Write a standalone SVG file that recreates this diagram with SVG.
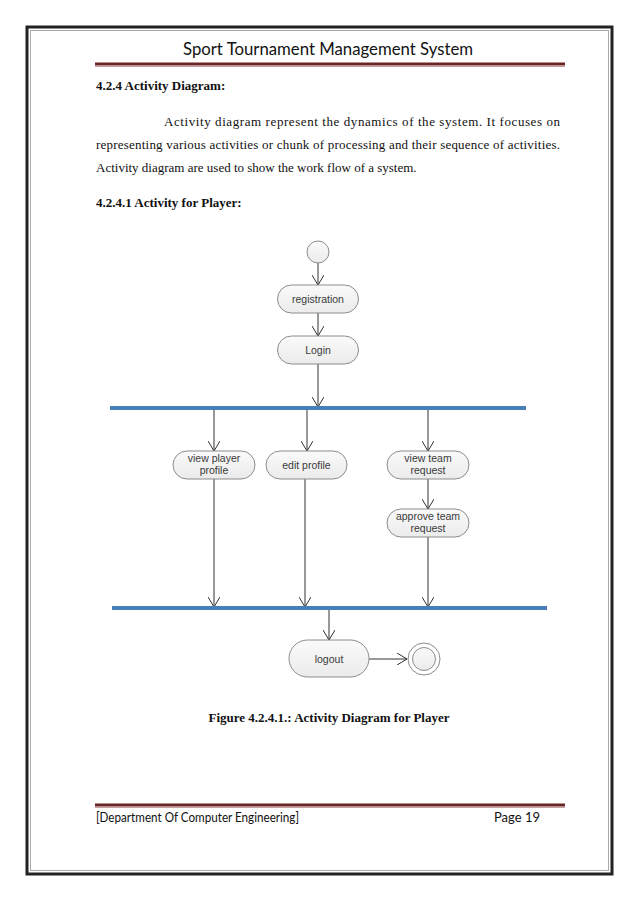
<svg xmlns="http://www.w3.org/2000/svg" width="638" height="902" viewBox="0 0 638 902">
<style>
.hdr{font-family:Lato,"Liberation Sans",sans-serif;fill:#111}
.body{font-family:"Liberation Serif",serif;font-size:13px;fill:#111}
.bold{font-family:"Liberation Serif",serif;font-size:13px;font-weight:bold;fill:#111}
.node rect{fill:url(#g);stroke:#8c8c8c;stroke-width:1}
.node text{font-family:"Liberation Sans",sans-serif;font-size:10.5px;fill:#3a3a3a;text-anchor:middle}
.conn line{stroke:#333;stroke-width:1;marker-end:url(#arr)}
.bar{stroke:#4a7ebb;stroke-width:4}
</style>
<defs>
<linearGradient id="g" x1="0" y1="0" x2="0" y2="1"><stop offset="0" stop-color="#fafafa"/><stop offset="1" stop-color="#ebebeb"/></linearGradient>
<marker id="arr" markerWidth="12" markerHeight="12" refX="10" refY="6" orient="auto" markerUnits="userSpaceOnUse" viewBox="0 0 12 12"><path d="M0,0 L10,6 L0,12" fill="none" stroke="#333" stroke-width="1"/></marker>
</defs>
<rect x="0" y="0" width="638" height="902" fill="#fff"/>
<!-- page border -->
<rect x="27" y="27" width="585" height="847" fill="none" stroke="#222" stroke-width="3"/>
<rect x="30.5" y="30.5" width="578" height="840" fill="none" stroke="#aaa" stroke-width="1"/>
<!-- header -->
<text class="hdr" x="328" y="55" font-size="17" text-anchor="middle" textLength="290" lengthAdjust="spacingAndGlyphs">Sport Tournament Management System</text>
<line x1="95" y1="64" x2="565" y2="64" stroke="#6b2424" stroke-width="3"/>
<line x1="95" y1="66.5" x2="565" y2="66.5" stroke="#c9a0a0" stroke-width="1"/>
<text class="bold" x="96" y="90">4.2.4 Activity Diagram:</text>
<text class="body" x="164" y="126" textLength="396" lengthAdjust="spacing">Activity diagram represent the dynamics of the system. It focuses on</text>
<text class="body" x="96" y="149" textLength="464" lengthAdjust="spacing">representing various activities or chunk of processing and their sequence of activities.</text>
<text class="body" x="96" y="172">Activity diagram are used to show the work flow of a system.</text>
<text class="bold" x="96" y="207">4.2.4.1 Activity for Player:</text>
<!-- connectors -->
<g id="connectors" class="conn">
<line x1="318" y1="263" x2="318" y2="285"/>
<line x1="318" y1="313" x2="318" y2="336"/>
<line x1="318" y1="364" x2="318" y2="407"/>
<line x1="214" y1="410" x2="214" y2="451"/>
<line x1="307" y1="410" x2="307" y2="451"/>
<line x1="428" y1="410" x2="428" y2="451"/>
<line x1="428" y1="479" x2="428" y2="509"/>
<line x1="214" y1="479" x2="214" y2="607"/>
<line x1="305" y1="479" x2="305" y2="607"/>
<line x1="428" y1="537" x2="428" y2="607"/>
<line x1="329" y1="610" x2="329" y2="640"/>
<line x1="369" y1="659" x2="407" y2="659"/>
</g>
<!-- nodes -->
<g id="start"><circle cx="318" cy="252" r="11" fill="url(#g)" stroke="#8c8c8c"/></g>
<g id="registration" class="node"><rect x="277.5" y="285" width="81" height="28" rx="14"/><text x="318" y="303">registration</text></g>
<g id="login" class="node"><rect x="277.5" y="336" width="81" height="28" rx="14"/><text x="318" y="354">Login</text></g>
<g id="fork"><line class="bar" x1="110" y1="408" x2="526" y2="408"/></g>
<g id="viewPlayerProfile" class="node"><rect x="173" y="451" width="82" height="28" rx="14"/><text x="214" y="462">view player</text><text x="214" y="474">profile</text></g>
<g id="editProfile" class="node"><rect x="266" y="451" width="81" height="28" rx="14"/><text x="306.5" y="469">edit profile</text></g>
<g id="viewTeamRequest" class="node"><rect x="387" y="451" width="82" height="28" rx="14"/><text x="428" y="462">view team</text><text x="428" y="474">request</text></g>
<g id="approveTeamRequest" class="node"><rect x="387" y="509" width="82" height="28" rx="14"/><text x="428" y="520">approve team</text><text x="428" y="532">request</text></g>
<g id="join"><line class="bar" x1="112" y1="608" x2="547" y2="608"/></g>
<g id="logout" class="node"><rect x="289" y="640" width="80" height="37" rx="18.5"/><text x="329" y="663">logout</text></g>
<g id="end"><circle cx="424" cy="659" r="16" fill="#fff" stroke="#8c8c8c"/><circle cx="424" cy="659" r="11.5" fill="url(#g)" stroke="#8c8c8c"/></g>
<!-- caption -->
<text class="bold" x="329" y="722" text-anchor="middle">Figure 4.2.4.1.: Activity Diagram for Player</text>
<!-- footer -->
<line x1="95" y1="805" x2="565" y2="805" stroke="#6b2424" stroke-width="3"/>
<line x1="95" y1="807.5" x2="565" y2="807.5" stroke="#c9a0a0" stroke-width="1"/>
<text class="hdr" x="96" y="822" font-size="13" textLength="203" lengthAdjust="spacingAndGlyphs">[Department Of Computer Engineering]</text>
<text class="hdr" x="540" y="822" font-size="13" text-anchor="end">Page 19</text>
</svg>
